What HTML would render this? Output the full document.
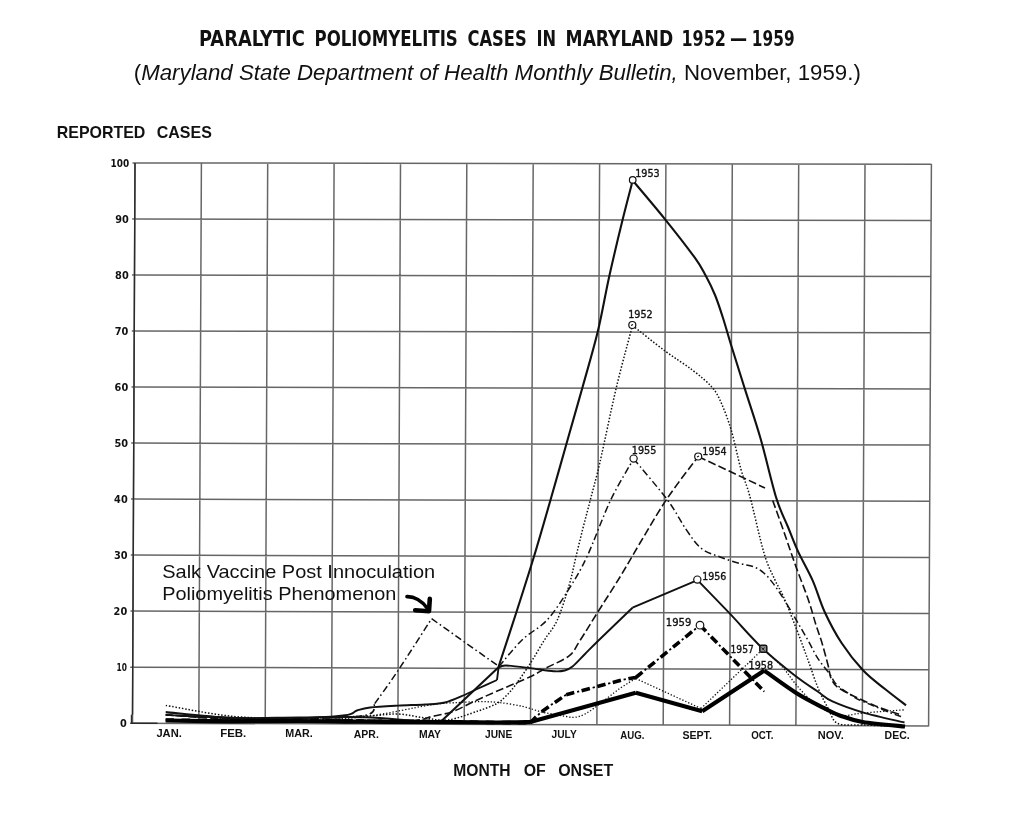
<!DOCTYPE html>
<html><head><meta charset="utf-8"><title>Paralytic Poliomyelitis Cases in Maryland 1952-1959</title>
<style>html,body{margin:0;padding:0;background:#fff;width:1024px;height:826px;overflow:hidden}svg{display:block}</style>
</head><body>
<svg width="1024" height="826" viewBox="0 0 1024 826">
<rect width="1024" height="826" fill="#fff"/>
<path d="M135.0,162.6 L132.5,723.7 M201.4,162.7 L198.8,723.9 M267.7,162.8 L265.2,724.2 M334.1,162.9 L331.5,724.4 M400.5,163.1 L397.9,724.6 M466.8,163.2 L464.2,724.8 M533.2,163.3 L530.5,725.0 M599.6,163.4 L596.9,725.3 M665.9,163.5 L663.2,725.5 M732.3,163.7 L729.6,725.7 M798.7,163.8 L795.9,725.9 M865.0,163.9 L862.3,726.2 M931.4,164.0 L928.6,726.4 M132.5,162.9 L931.4,164.3 M132.2,218.9 L931.1,220.5 M132.0,275.0 L930.8,276.6 M131.8,331.0 L930.6,332.8 M131.5,387.0 L930.3,388.9 M131.2,443.1 L930.0,445.1 M131.0,499.1 L929.7,501.3 M130.8,555.1 L929.4,557.4 M130.5,611.1 L929.2,613.6 M130.2,667.2 L928.9,669.7 M130.0,723.2 L928.6,725.9" stroke="#666" stroke-width="1.5" fill="none"/>
<path d="M135.0,162.9 L132.5,714.8 M131.5,714.8 L131.5,723.3 L157.5,723.2" stroke="#2a2a2a" stroke-width="1.4" fill="none"/>
<path d="M165.7,720.0 C176.7,720.0 209.9,720.1 232.0,720.2 C254.1,720.2 276.3,721.0 298.4,720.4 C320.5,719.8 342.8,719.3 364.7,716.7 C386.7,714.1 414.1,707.4 430.0,705.0 C445.9,702.6 451.6,703.0 460.0,702.5 C468.4,702.0 473.8,701.7 480.3,701.7 C486.8,701.7 492.0,701.7 499.0,702.5 C506.0,703.3 515.5,704.8 522.5,706.4 C529.5,708.0 535.7,710.5 541.2,711.9 C546.8,713.2 551.9,713.7 556.0,714.5 C560.1,715.3 562.8,716.0 566.0,716.5 C569.2,717.0 571.8,717.7 575.0,717.3 C578.2,716.9 581.2,716.0 585.0,714.0 C588.8,712.0 591.7,709.9 597.5,705.6 C603.3,701.3 613.6,692.9 620.0,688.4 C626.4,683.9 633.2,680.1 635.8,678.5 M635.8,678.5 L701.0,708.5 M701.0,708.5 L763.5,648.5 M763.5,648.5 C766.7,651.7 777.5,661.7 782.8,667.5 C788.0,673.3 790.8,678.2 795.0,683.3 C799.2,688.3 803.7,693.6 808.3,697.8 C812.9,702.0 817.6,705.7 822.8,708.7 C828.0,711.7 833.0,715.3 839.7,716.0 C846.4,716.7 852.1,714.0 863.0,713.0 C873.9,712.0 898.0,710.3 905.0,709.8" fill="none" stroke="#111" stroke-width="1.3" stroke-dasharray="1.3 1.9"/>
<path d="M165.8,705.4 C176.8,707.2 209.9,714.1 232.0,716.3 C254.2,718.4 275.9,718.2 298.4,718.2 C320.9,718.1 350.4,716.7 367.0,716.0 C383.6,715.3 388.3,713.7 398.0,714.0 C407.7,714.3 416.7,717.0 425.0,718.0 C433.3,719.0 439.2,721.2 448.0,720.0 C456.8,718.8 470.0,713.7 478.0,711.0 C486.0,708.3 491.5,706.3 496.0,704.0 C500.5,701.7 501.9,700.0 505.0,697.0 C508.1,694.0 510.5,691.6 514.7,686.0 C518.9,680.4 525.3,671.1 530.3,663.4 C535.2,655.7 539.9,647.2 544.4,640.0 C548.9,632.8 553.2,629.2 557.3,620.0 C561.4,610.8 566.1,595.6 569.2,585.0 C572.3,574.4 573.7,566.1 576.0,556.6 C578.3,547.1 580.6,537.4 583.0,528.0 C585.4,518.6 587.5,511.0 590.3,500.0 C593.1,489.0 595.7,480.7 600.0,462.0 C604.3,443.3 610.9,410.4 616.3,387.7 C621.7,364.9 629.8,335.9 632.5,325.5 M632.5,325.5 C637.9,329.7 654.8,343.4 664.8,350.8 C674.8,358.2 684.7,364.1 692.6,370.2 C700.5,376.3 707.1,381.6 712.0,387.2 C716.9,392.8 718.5,396.7 721.7,404.0 C724.9,411.3 728.2,419.9 731.4,430.8 C734.6,441.7 738.0,458.7 741.0,469.5 C744.0,480.3 745.8,481.6 749.7,495.7 C753.6,509.8 760.0,539.8 764.2,553.8 C768.4,567.8 771.8,572.8 775.0,580.0 C778.2,587.2 780.0,588.8 783.6,597.0 C787.2,605.2 792.5,618.8 796.6,629.3 C800.7,639.8 804.4,650.2 808.0,660.0 C811.6,669.8 814.7,679.9 818.0,687.9 C821.3,695.9 824.7,702.1 828.0,708.0 C831.3,713.9 831.9,720.7 837.7,723.5 C843.5,726.3 851.7,724.5 862.7,725.0 C873.8,725.5 897.1,726.2 904.0,726.5" fill="none" stroke="#111" stroke-width="1.5" stroke-dasharray="1.5 1.8"/>
<path d="M165.7,714.9 C176.8,715.6 209.9,718.5 232.0,719.1 C254.1,719.6 276.3,718.0 298.4,718.2 C320.5,718.3 345.5,719.7 364.7,720.1 C383.9,720.5 402.5,721.1 413.8,720.5 C425.0,719.9 425.5,718.0 432.0,716.5 C438.5,715.0 445.6,714.1 452.8,711.5 C460.0,708.9 467.8,704.3 475.0,701.0 C482.2,697.7 486.8,695.6 496.0,691.6 C505.2,687.6 522.0,680.6 530.3,676.7 C538.6,672.8 539.5,671.5 546.0,668.0 C552.5,664.5 563.7,660.3 569.4,655.6 C575.1,650.9 575.6,647.1 580.3,640.0 C585.0,632.9 590.8,623.2 597.4,612.7 C604.0,602.2 612.9,588.6 620.0,577.0 C627.1,565.4 632.1,556.2 640.0,543.0 C647.9,529.8 657.8,512.4 667.5,498.0 C677.2,483.6 693.1,463.4 698.2,456.5 M698.2,456.5 L765.0,488.0 M772.7,500.5 C774.8,506.2 781.2,524.1 785.0,535.0 C788.8,545.9 791.8,555.1 795.7,565.9 C799.6,576.7 805.0,590.1 808.4,600.0 C811.8,609.9 813.7,617.8 816.0,625.0 C818.3,632.2 820.0,636.3 822.0,643.0 C824.0,649.7 826.4,658.8 828.0,665.0 C829.6,671.2 829.5,675.9 831.8,680.0 C834.1,684.1 834.1,685.4 841.6,689.8 C849.1,694.2 866.6,702.2 876.7,706.4 C886.8,710.6 897.8,713.7 902.0,715.2" fill="none" stroke="#111" stroke-width="1.6" stroke-dasharray="8 3.2"/>
<path d="M165.7,714.9 C176.8,715.5 209.9,718.0 232.0,718.5 C254.1,719.0 276.2,718.7 298.4,718.2 C320.6,717.6 352.6,717.7 365.3,715.3 C378.0,712.9 373.1,705.5 374.7,703.6 M374.7,703.6 C378.5,698.3 387.8,685.8 397.3,671.6 C406.8,657.5 425.9,627.5 431.6,618.7 M431.6,618.7 L499.0,666.5 M499.0,666.5 C502.8,662.1 514.0,647.8 522.0,640.0 C530.0,632.2 539.2,628.6 547.1,620.0 C555.0,611.4 562.6,599.1 569.2,588.5 C575.9,577.9 580.1,571.4 587.0,556.6 C593.9,541.9 602.9,516.3 610.7,500.0 C618.5,483.7 629.8,465.7 633.6,458.8 M633.6,458.8 C639.2,465.7 658.8,488.3 667.5,500.0 C676.2,511.7 680.2,521.0 685.9,529.1 C691.5,537.2 695.6,543.8 701.4,548.5 C707.2,553.2 714.3,554.7 720.7,557.2 C727.1,559.7 734.4,561.9 740.0,563.5 C745.6,565.1 750.1,565.1 754.5,567.1 C758.9,569.1 762.1,571.0 766.6,575.6 C771.1,580.2 776.4,587.7 781.2,595.0 C786.1,602.3 791.3,611.7 795.7,619.2 C800.1,626.7 804.1,633.4 807.8,640.0 C811.5,646.6 814.3,652.9 818.0,658.6 C821.7,664.3 826.6,669.8 829.8,674.2 C833.0,678.6 832.9,681.2 837.0,685.0 C841.1,688.8 850.0,694.4 854.2,697.1 C858.4,699.8 856.0,698.4 862.0,701.0 C868.0,703.6 883.8,710.1 890.3,712.7 C896.8,715.3 899.2,716.0 901.0,716.6" fill="none" stroke="#111" stroke-width="1.5" stroke-dasharray="7 3 1.6 3"/>
<path d="M165.7,714.9 C176.8,715.4 209.9,717.4 232.0,717.9 C254.1,718.5 279.6,718.6 298.4,718.2 C317.2,717.7 335.2,716.6 345.0,715.3 C354.8,714.0 352.8,711.8 357.0,710.5 C361.2,709.2 363.2,708.3 370.0,707.5 C376.8,706.7 388.8,706.1 398.0,705.6 C407.2,705.1 417.2,705.0 425.0,704.5 C432.8,704.0 438.4,704.1 445.0,702.5 C451.6,700.9 459.3,697.2 464.5,695.0 C469.7,692.8 470.6,692.0 476.0,689.5 C481.4,687.0 493.5,681.6 497.0,680.0 M497.0,680.0 L498.5,668.0 M498.5,668.0 C499.6,667.6 500.0,665.5 505.3,665.5 C510.6,665.5 522.2,667.1 530.3,668.1 C538.4,669.1 548.0,670.9 553.8,671.2 C559.5,671.6 561.6,671.3 564.7,670.5 C567.8,669.7 569.1,669.4 572.5,666.6 C575.9,663.9 580.6,658.4 585.0,654.0 C589.4,649.6 591.1,647.7 599.0,640.0 C606.9,632.3 626.9,613.1 632.5,607.7 M632.5,607.7 L697.5,580.2 M697.5,580.2 C702.8,585.7 718.6,601.9 729.4,613.2 C740.2,624.5 751.0,637.4 762.1,648.0 C773.2,658.6 786.9,669.3 796.2,676.6 C805.5,683.9 812.0,687.6 818.0,691.7 C824.0,695.8 825.0,698.0 832.5,701.4 C840.0,704.8 850.7,708.8 862.7,712.3 C874.7,715.8 897.5,720.8 904.5,722.5" fill="none" stroke="#111" stroke-width="1.9" stroke-linejoin="round"/>
<path d="M165.7,712.1 C176.8,713.1 209.9,717.0 232.0,717.9 C254.1,718.8 276.3,717.7 298.4,717.6 C320.5,717.5 344.5,716.6 364.7,717.3 C385.0,717.9 407.2,720.9 420.0,721.5 C432.8,722.1 437.9,721.1 441.5,721.0 M441.5,721.0 L498.3,667.5 M498.3,667.5 C501.3,658.3 510.3,631.0 516.3,612.5 C522.2,594.0 528.3,575.2 534.0,556.5 C539.7,537.8 545.1,518.8 550.5,500.0 C555.9,481.2 561.1,462.7 566.4,444.0 C571.7,425.3 577.1,406.5 582.4,387.7 C587.6,368.9 593.4,349.8 597.9,331.0 C602.4,312.2 605.3,293.9 609.5,275.2 C613.7,256.5 619.0,234.4 622.9,218.6 C626.8,202.8 631.1,186.8 632.7,180.5 M632.7,180.5 C638.0,186.8 654.1,205.7 664.5,218.6 C674.9,231.5 688.0,248.3 694.8,257.7 C701.6,267.1 702.1,269.0 705.5,275.2 C708.9,281.4 712.1,287.9 715.0,295.0 C717.9,302.1 720.3,309.5 723.0,318.0 C725.7,326.5 727.8,334.3 731.4,346.0 C735.0,357.7 739.9,373.1 744.7,388.4 C749.5,403.7 755.1,419.7 760.4,438.0 C765.7,456.3 771.7,483.2 776.3,498.0 C780.9,512.8 784.4,518.1 788.0,527.0 C791.6,535.9 793.9,542.5 798.0,551.4 C802.1,560.3 808.1,570.3 812.6,580.4 C817.1,590.5 819.9,601.6 824.7,612.0 C829.5,622.4 835.2,633.3 841.6,643.0 C848.0,652.7 855.8,662.6 863.0,670.3 C870.2,678.0 877.8,683.2 885.0,689.0 C892.2,694.8 902.5,702.6 906.0,705.3" fill="none" stroke="#111" stroke-width="2.1" stroke-linejoin="round"/>
<path d="M165.7,720.5 C176.7,720.6 209.9,721.2 232.0,721.3 C254.1,721.4 276.3,720.9 298.4,721.0 C320.5,721.0 342.6,721.6 364.7,721.7 C386.8,721.9 409.0,721.8 431.0,722.0 C453.1,722.1 480.5,722.5 497.0,722.5 C513.5,722.5 524.8,722.1 530.3,722.0 M530.3,722.0 L635.8,692.7 M635.8,692.7 L702.2,711.2 M702.2,711.2 L764.3,670.6 M764.3,670.6 C769.6,674.3 786.1,686.6 796.2,693.0 C806.4,699.4 818.0,705.0 825.2,708.7 C832.5,712.4 833.5,713.2 839.7,715.4 C846.0,717.6 851.8,720.1 862.7,722.0 C873.6,723.9 898.0,725.8 905.0,726.5" fill="none" stroke="#000" stroke-width="4.2" stroke-linejoin="round"/>
<path d="M165.7,720.0 C176.7,720.1 209.9,720.7 232.0,720.7 C254.1,720.8 276.3,720.3 298.4,720.4 C320.5,720.5 342.6,721.0 364.7,721.2 C386.8,721.4 409.0,721.2 431.1,721.4 C453.1,721.6 480.5,722.3 497.0,722.5 C513.5,722.7 524.8,722.8 530.3,722.8 M530.3,722.8 C532.4,720.8 536.8,715.7 542.8,711.0 C548.8,706.3 562.3,697.4 566.2,694.7 M566.2,694.7 C575.2,692.4 608.4,683.5 620.0,680.6 C631.6,677.7 633.2,678.0 635.8,677.5 M635.8,677.5 L700.0,625.2 M700.0,625.2 L764.3,691.6" fill="none" stroke="#000" stroke-width="3.6" stroke-dasharray="8.5 7.5"/>
<path d="M165.7,720.0 C176.7,720.1 209.9,720.7 232.0,720.7 C254.1,720.8 276.3,720.3 298.4,720.4 C320.5,720.5 342.6,721.0 364.7,721.2 C386.8,721.4 409.0,721.2 431.1,721.4 C453.1,721.6 480.5,722.3 497.0,722.5 C513.5,722.7 524.8,722.8 530.3,722.8 M530.3,722.8 C532.4,720.8 536.8,715.7 542.8,711.0 C548.8,706.3 562.3,697.4 566.2,694.7 M566.2,694.7 C575.2,692.4 608.4,683.5 620.0,680.6 C631.6,677.7 633.2,678.0 635.8,677.5 M635.8,677.5 L700.0,625.2 M700.0,625.2 L764.3,691.6" fill="none" stroke="#000" stroke-width="1.8" stroke-dasharray="0 11.3 2.2 2.5"/>
<circle cx="632.7" cy="179.9" r="3.3" fill="#fff" stroke="#111" stroke-width="1.2"/>
<circle cx="632.3" cy="325.0" r="3.5" fill="#fff" stroke="#111" stroke-width="1.2"/>
<circle cx="633.6" cy="458.6" r="3.6" fill="#fff" stroke="#111" stroke-width="1.2"/>
<circle cx="698.2" cy="456.5" r="3.5" fill="#fff" stroke="#111" stroke-width="1.2"/>
<circle cx="697.3" cy="579.6" r="3.6" fill="#fff" stroke="#111" stroke-width="1.2"/>
<circle cx="700.0" cy="625.2" r="3.8" fill="#fff" stroke="#111" stroke-width="1.2"/>
<rect x="759.8" y="645.3" width="7" height="7" rx="1.5" fill="#888" stroke="#111" stroke-width="1.5"/>
<path d="M761.5,647.5 l3,3 M764.5,647.5 l-2,2" stroke="#222" stroke-width="1"/>
<path d="M631,325.5 l2,-1 M697,457 l2,-1" stroke="#111" stroke-width="1.2"/>
<text x="635.2" y="177.4" font-size="9.6" font-family="DejaVu Sans, sans-serif" textLength="24.5" lengthAdjust="spacingAndGlyphs" fill="#111" stroke="#111" stroke-width="0.35">1953</text>
<text x="628.2" y="318.4" font-size="9.6" font-family="DejaVu Sans, sans-serif" textLength="24.5" lengthAdjust="spacingAndGlyphs" fill="#111" stroke="#111" stroke-width="0.35">1952</text>
<text x="631.8" y="453.8" font-size="9.6" font-family="DejaVu Sans, sans-serif" textLength="24.6" lengthAdjust="spacingAndGlyphs" fill="#111" stroke="#111" stroke-width="0.35">1955</text>
<text x="702.3" y="454.6" font-size="9.6" font-family="DejaVu Sans, sans-serif" textLength="24.4" lengthAdjust="spacingAndGlyphs" fill="#111" stroke="#111" stroke-width="0.35">1954</text>
<text x="702.2" y="579.6" font-size="9.6" font-family="DejaVu Sans, sans-serif" textLength="24.2" lengthAdjust="spacingAndGlyphs" fill="#111" stroke="#111" stroke-width="0.35">1956</text>
<text x="665.8" y="626.0" font-size="9.6" font-family="DejaVu Sans, sans-serif" textLength="25.5" lengthAdjust="spacingAndGlyphs" fill="#111" stroke="#111" stroke-width="0.35">1959</text>
<text x="730.5" y="653.0" font-size="9.6" font-family="DejaVu Sans, sans-serif" textLength="23.3" lengthAdjust="spacingAndGlyphs" fill="#111" stroke="#111" stroke-width="0.35">1957</text>
<text x="748.6" y="669.0" font-size="9.6" font-family="DejaVu Sans, sans-serif" textLength="24.4" lengthAdjust="spacingAndGlyphs" fill="#111" stroke="#111" stroke-width="0.35">1958</text>
<path d="M407,596.6 C414,596.4 422,600.5 427.5,608.5" stroke="#000" stroke-width="3.6" fill="none" stroke-linecap="round"/>
<path d="M429.8,598.8 L429,611.2 L415.2,610.2" stroke="#000" stroke-width="4.6" fill="none" stroke-linecap="round" stroke-linejoin="round"/>
<text x="110.6" y="166.8" font-size="10" font-family="DejaVu Sans, sans-serif" font-weight="bold" textLength="18.6" lengthAdjust="spacingAndGlyphs" fill="#111">100</text>
<text x="115.3" y="222.8" font-size="10" font-family="DejaVu Sans, sans-serif" font-weight="bold" textLength="13.6" lengthAdjust="spacingAndGlyphs" fill="#111">90</text>
<text x="115.1" y="278.9" font-size="10" font-family="DejaVu Sans, sans-serif" font-weight="bold" textLength="13.6" lengthAdjust="spacingAndGlyphs" fill="#111">80</text>
<text x="114.8" y="334.9" font-size="10" font-family="DejaVu Sans, sans-serif" font-weight="bold" textLength="13.6" lengthAdjust="spacingAndGlyphs" fill="#111">70</text>
<text x="114.6" y="390.9" font-size="10" font-family="DejaVu Sans, sans-serif" font-weight="bold" textLength="13.6" lengthAdjust="spacingAndGlyphs" fill="#111">60</text>
<text x="114.4" y="446.9" font-size="10" font-family="DejaVu Sans, sans-serif" font-weight="bold" textLength="13.6" lengthAdjust="spacingAndGlyphs" fill="#111">50</text>
<text x="114.1" y="503.0" font-size="10" font-family="DejaVu Sans, sans-serif" font-weight="bold" textLength="13.6" lengthAdjust="spacingAndGlyphs" fill="#111">40</text>
<text x="113.9" y="559.0" font-size="10" font-family="DejaVu Sans, sans-serif" font-weight="bold" textLength="13.6" lengthAdjust="spacingAndGlyphs" fill="#111">30</text>
<text x="113.6" y="615.0" font-size="10" font-family="DejaVu Sans, sans-serif" font-weight="bold" textLength="13.6" lengthAdjust="spacingAndGlyphs" fill="#111">20</text>
<text x="116.5" y="671.1" font-size="10" font-family="DejaVu Sans, sans-serif" font-weight="bold" textLength="10.4" lengthAdjust="spacingAndGlyphs" fill="#111">10</text>
<text x="119.9" y="727.1" font-size="10" font-family="DejaVu Sans, sans-serif" font-weight="bold" textLength="6.8" lengthAdjust="spacingAndGlyphs" fill="#111">0</text>
<text x="156.4" y="737.0" font-size="10.3" font-family="Liberation Sans, sans-serif" font-weight="bold" textLength="25.4" lengthAdjust="spacingAndGlyphs" fill="#111">JAN.</text>
<text x="220.2" y="737.2" font-size="10.3" font-family="Liberation Sans, sans-serif" font-weight="bold" textLength="26.1" lengthAdjust="spacingAndGlyphs" fill="#111">FEB.</text>
<text x="285.2" y="737.4" font-size="10.3" font-family="Liberation Sans, sans-serif" font-weight="bold" textLength="27.5" lengthAdjust="spacingAndGlyphs" fill="#111">MAR.</text>
<text x="353.8" y="737.6" font-size="10.3" font-family="Liberation Sans, sans-serif" font-weight="bold" textLength="25.0" lengthAdjust="spacingAndGlyphs" fill="#111">APR.</text>
<text x="418.9" y="737.8" font-size="10.3" font-family="Liberation Sans, sans-serif" font-weight="bold" textLength="22.1" lengthAdjust="spacingAndGlyphs" fill="#111">MAY</text>
<text x="485.1" y="738.0" font-size="10.3" font-family="Liberation Sans, sans-serif" font-weight="bold" textLength="27.1" lengthAdjust="spacingAndGlyphs" fill="#111">JUNE</text>
<text x="551.6" y="738.2" font-size="10.3" font-family="Liberation Sans, sans-serif" font-weight="bold" textLength="25.1" lengthAdjust="spacingAndGlyphs" fill="#111">JULY</text>
<text x="620.3" y="738.5" font-size="10.3" font-family="Liberation Sans, sans-serif" font-weight="bold" textLength="24.2" lengthAdjust="spacingAndGlyphs" fill="#111">AUG.</text>
<text x="682.4" y="738.7" font-size="10.3" font-family="Liberation Sans, sans-serif" font-weight="bold" textLength="29.5" lengthAdjust="spacingAndGlyphs" fill="#111">SEPT.</text>
<text x="751.3" y="738.9" font-size="10.3" font-family="Liberation Sans, sans-serif" font-weight="bold" textLength="22.1" lengthAdjust="spacingAndGlyphs" fill="#111">OCT.</text>
<text x="817.8" y="739.1" font-size="10.3" font-family="Liberation Sans, sans-serif" font-weight="bold" textLength="25.9" lengthAdjust="spacingAndGlyphs" fill="#111">NOV.</text>
<text x="884.6" y="739.3" font-size="10.3" font-family="Liberation Sans, sans-serif" font-weight="bold" textLength="25.1" lengthAdjust="spacingAndGlyphs" fill="#111">DEC.</text>
<text x="162.2" y="577.8" font-size="19" font-family="Liberation Sans, sans-serif" textLength="273.0" lengthAdjust="spacingAndGlyphs" fill="#111">Salk Vaccine Post Innoculation</text>
<text x="162.2" y="600.1" font-size="19" font-family="Liberation Sans, sans-serif" textLength="234.2" lengthAdjust="spacingAndGlyphs" fill="#111">Poliomyelitis Phenomenon</text>
<text x="56.8" y="138.0" font-size="16.3" font-family="Liberation Sans, sans-serif" font-weight="bold" textLength="88.6" lengthAdjust="spacingAndGlyphs" fill="#111">REPORTED</text>
<text x="156.8" y="138.0" font-size="16.3" font-family="Liberation Sans, sans-serif" font-weight="bold" textLength="55.0" lengthAdjust="spacingAndGlyphs" fill="#111">CASES</text>
<text x="453.3" y="776.2" font-size="16.3" font-family="Liberation Sans, sans-serif" font-weight="bold" textLength="57.3" lengthAdjust="spacingAndGlyphs" fill="#111">MONTH</text>
<text x="523.7" y="776.2" font-size="16.3" font-family="Liberation Sans, sans-serif" font-weight="bold" textLength="22.1" lengthAdjust="spacingAndGlyphs" fill="#111">OF</text>
<text x="558.2" y="776.2" font-size="16.3" font-family="Liberation Sans, sans-serif" font-weight="bold" textLength="55.0" lengthAdjust="spacingAndGlyphs" fill="#111">ONSET</text>
<text x="199.1" y="45.6" font-size="21.2" font-family="DejaVu Sans, sans-serif" font-stretch="condensed" font-weight="bold" textLength="105.7" lengthAdjust="spacingAndGlyphs" fill="#111">PARALYTIC</text>
<text x="314.5" y="45.6" font-size="21.2" font-family="DejaVu Sans, sans-serif" font-stretch="condensed" font-weight="bold" textLength="143.3" lengthAdjust="spacingAndGlyphs" fill="#111">POLIOMYELITIS</text>
<text x="467.5" y="45.6" font-size="21.2" font-family="DejaVu Sans, sans-serif" font-stretch="condensed" font-weight="bold" textLength="59.2" lengthAdjust="spacingAndGlyphs" fill="#111">CASES</text>
<text x="536.4" y="45.6" font-size="21.2" font-family="DejaVu Sans, sans-serif" font-stretch="condensed" font-weight="bold" textLength="19.6" lengthAdjust="spacingAndGlyphs" fill="#111">IN</text>
<text x="565.6" y="45.6" font-size="21.2" font-family="DejaVu Sans, sans-serif" font-stretch="condensed" font-weight="bold" textLength="107.5" lengthAdjust="spacingAndGlyphs" fill="#111">MARYLAND</text>
<text x="681.5" y="45.6" font-size="21.2" font-family="DejaVu Sans, sans-serif" font-stretch="condensed" font-weight="bold" textLength="44.4" lengthAdjust="spacingAndGlyphs" fill="#111">1952</text>
<text x="729.9" y="45.6" font-size="21.2" font-family="DejaVu Sans, sans-serif" font-stretch="condensed" font-weight="bold" textLength="17.1" lengthAdjust="spacingAndGlyphs" fill="#111">—</text>
<text x="751.8" y="45.6" font-size="21.2" font-family="DejaVu Sans, sans-serif" font-stretch="condensed" font-weight="bold" textLength="42.8" lengthAdjust="spacingAndGlyphs" fill="#111">1959</text>
<text x="133.8" y="80.4" font-size="21.5" font-family="Liberation Sans, sans-serif" textLength="727" lengthAdjust="spacingAndGlyphs" fill="#111">(<tspan font-style="italic">Maryland State Department of Health Monthly Bulletin,</tspan> November, 1959.)</text>
</svg>
</body></html>
